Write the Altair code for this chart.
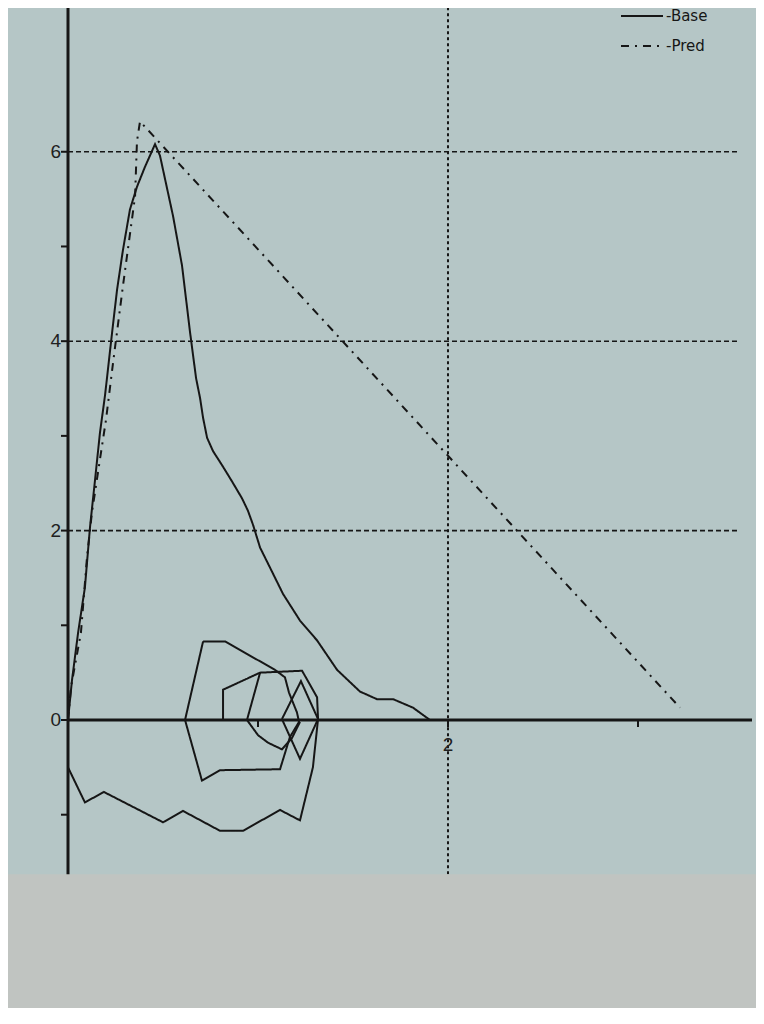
import altair as alt
import pandas as pd

# ---------------- values (data units) ----------------
base_main_x = [0.0, 0.021, 0.053, 0.089, 0.116, 0.142, 0.168, 0.195, 0.232, 0.258,
               0.289, 0.326, 0.363, 0.405, 0.458,
               0.484, 0.553, 0.600, 0.642, 0.674, 0.695, 0.711, 0.732, 0.763, 0.811,
               0.863, 0.916, 0.947, 0.974, 1.011, 1.063, 1.132, 1.221, 1.311, 1.416,
               1.537, 1.626, 1.711, 1.816, 1.905]
base_main_y = [0.0, 0.42, 0.92, 1.40, 2.04, 2.53, 3.03, 3.43, 4.09, 4.54,
               4.96, 5.39, 5.63, 5.84, 6.08,
               5.96, 5.32, 4.80, 4.10, 3.61, 3.40, 3.19, 2.98, 2.84, 2.69,
               2.52, 2.34, 2.21, 2.06, 1.82, 1.61, 1.33, 1.05, 0.84, 0.53,
               0.30, 0.22, 0.22, 0.13, 0.0]

loop_a_x = [0.711, 0.826, 1.089, 1.142, 1.163, 1.205, 1.216, 1.168, 1.116, 0.800, 0.705, 0.616, 0.711]
loop_a_y = [0.83, 0.83, 0.53, 0.45, 0.29, 0.08, -0.02, -0.18, -0.52, -0.53, -0.64, 0.0, 0.83]

loop_b_x = [0.816, 0.816, 1.011, 1.232, 1.311, 1.316, 1.289, 1.221, 1.116, 0.921,
            0.800, 0.605, 0.500, 0.189, 0.089, 0.0]
loop_b_y = [0.0, 0.32, 0.50, 0.52, 0.24, 0.01, -0.50, -1.06, -0.95, -1.17,
            -1.17, -0.96, -1.08, -0.76, -0.87, -0.50]

loop_c_x = [1.011, 0.942, 1.000, 1.053, 1.126, 1.179, 1.221]
loop_c_y = [0.50, 0.0, -0.16, -0.24, -0.31, -0.19, -0.02]

diamond_x = [1.126, 1.226, 1.316, 1.221, 1.126]
diamond_y = [0.01, 0.41, 0.01, -0.41, 0.01]

pred_x = [0.0, 0.016, 0.068, 0.100, 0.126, 0.168, 0.200, 0.237, 0.289, 0.353,
          0.363, 0.379, 1.0, 2.0, 2.326, 3.221]
pred_y = [0.0, 0.35, 0.92, 1.72, 2.19, 2.75, 3.17, 3.77, 4.58, 5.53,
          6.11, 6.32, 4.97, 2.79, 2.08, 0.13]

series_names = ["Base", "Pred"]
y_tick_values = [-1, 0, 1, 2, 3, 4, 5, 6]
y_tick_labels = ["0", "2", "4", "6"]
x_tick_values = [1, 2, 3]
x_tick_labels = ["2"]
y_grid_values = [2, 4, 6]
x_grid_values = [2]

# ---------------- layout constants ----------------
X_MIN, X_MAX = -0.3158, 3.6211
Y_MIN, Y_MAX = -3.041, 7.518
PAPER_EDGE = -1.63
GRID_END_X = 3.53
X_AXIS_END = 3.6
INK = "#161616"
PAPER = "#b5c6c6"
UNDER = "#c0c4c1"

xs = alt.Scale(domain=[X_MIN, X_MAX], nice=False, zero=False)
ys = alt.Scale(domain=[Y_MIN, Y_MAX], nice=False, zero=False)


def X(f):
    return alt.X(f, type="quantitative", scale=xs, axis=None)


def Y(f):
    return alt.Y(f, type="quantitative", scale=ys, axis=None)


rows = []
segments = [
    ("main", "Base", base_main_x, base_main_y),
    ("loopA", "Base", loop_a_x, loop_a_y),
    ("loopB", "Base", loop_b_x, loop_b_y),
    ("loopC", "Base", loop_c_x, loop_c_y),
    ("diamond", "Base", diamond_x, diamond_y),
    ("pred", "Pred", pred_x, pred_y),
]
for seg, ser, sx, sy in segments:
    for i, (a, b) in enumerate(zip(sx, sy)):
        rows.append({"seg": seg, "series": ser, "x": a, "y": b, "i": i})
lines_df = pd.DataFrame(rows)

grid_h_df = pd.DataFrame({"y": y_grid_values, "x": [0] * len(y_grid_values),
                          "x2": [GRID_END_X] * len(y_grid_values)})
grid_v_df = pd.DataFrame({"x": x_grid_values, "y": [PAPER_EDGE] * len(x_grid_values),
                          "y2": [Y_MAX] * len(x_grid_values)})
yaxis_df = pd.DataFrame({"x": [0], "y": [Y_MIN], "y2": [Y_MAX]})
xaxis_df = pd.DataFrame({"x": [0], "x2": [X_AXIS_END], "y": [0]})
ytick_df = pd.DataFrame({"y": y_tick_values, "x": [0] * len(y_tick_values)})
xtick_df = pd.DataFrame({"x": x_tick_values, "y": [0] * len(x_tick_values)})
ylab_df = pd.DataFrame({"y": [float(v) for v in y_tick_labels], "x": [0] * len(y_tick_labels),
                        "t": y_tick_labels})
xlab_df = pd.DataFrame({"x": [float(v) for v in x_tick_labels], "y": [0] * len(x_tick_labels),
                        "t": x_tick_labels})
under_df = pd.DataFrame({"x": [X_MIN], "x2": [X_MAX], "y": [PAPER_EDGE], "y2": [Y_MIN]})

grid_h = alt.Chart(grid_h_df).mark_rule(color=INK, strokeWidth=1.6, strokeDash=[5, 3]).encode(
    x=X("x"), x2="x2", y=Y("y"))
grid_v = alt.Chart(grid_v_df).mark_rule(color=INK, strokeWidth=2, strokeDash=[3, 3]).encode(
    x=X("x"), y=Y("y"), y2="y2")

lines = alt.Chart(lines_df).mark_line(color=INK, strokeWidth=2).encode(
    x=X("x"), y=Y("y"), detail="seg:N", order="i:Q",
    strokeDash=alt.StrokeDash(
        "series:N",
        scale=alt.Scale(domain=series_names, range=[[1, 0], [8, 6, 2, 6]]),
        legend=alt.Legend(
            title=None, orient="none", legendX=612, legendY=-14,
            symbolType="stroke", symbolSize=1764, symbolStrokeWidth=2,
            symbolStrokeColor=INK, rowPadding=-27, labelOffset=2,
            labelExpr="'-' + datum.label", labelFont="DejaVu Sans",
            labelFontSize=15, labelColor=INK,
        ),
    ),
)

yaxis = alt.Chart(yaxis_df).mark_rule(color=INK, strokeWidth=3).encode(x=X("x"), y=Y("y"), y2="y2")
xaxis = alt.Chart(xaxis_df).mark_rule(color=INK, strokeWidth=3).encode(x=X("x"), x2="x2", y=Y("y"))
yticks = alt.Chart(ytick_df).mark_rule(color=INK, strokeWidth=2, x2Offset=-7).encode(
    x=X("x"), x2="x", y=Y("y"))
xticks = alt.Chart(xtick_df).mark_rule(color=INK, strokeWidth=2, y2Offset=7).encode(
    x=X("x"), y=Y("y"), y2="y")
ylabels = alt.Chart(ylab_df).mark_text(
    align="right", baseline="middle", dx=-7, font="Liberation Sans", fontSize=19, color="#202020"
).encode(x=X("x"), y=Y("y"), text="t:N")
xlabels = alt.Chart(xlab_df).mark_text(
    align="center", baseline="middle", dy=25, font="Liberation Sans", fontSize=19, color="#202020"
).encode(x=X("x"), y=Y("y"), text="t:N")
under = alt.Chart(under_df).mark_rect(color=UNDER).encode(x=X("x"), x2="x2", y=Y("y"), y2="y2")

chart = alt.layer(
    grid_h, grid_v, lines, yaxis, xaxis, yticks, xticks, ylabels, xlabels, under
).properties(
    width=748, height=1000, autosize="none", padding=0, background=PAPER
).configure_view(stroke=None, fill=PAPER)

chart.save("out.html", embed_options={"renderer": "svg", "actions": False})
